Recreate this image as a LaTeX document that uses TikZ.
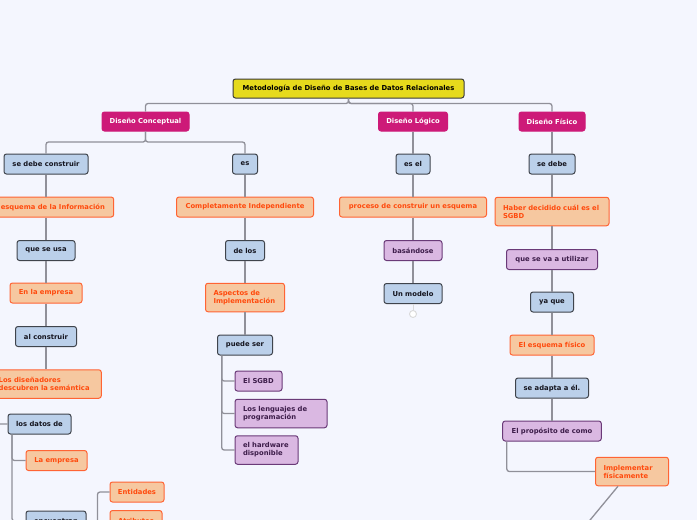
\documentclass[tikz,border=0pt]{standalone}
\usepackage{fontspec}
\setmainfont{DejaVu Sans}
\begin{document}
\begin{tikzpicture}[x=1pt,y=-1pt,
  conn/.style={draw=edgegrey,line width=1.3pt,rounded corners=2.5pt},
  box/.style={rounded corners=2.5pt,line width=1pt,inner sep=0pt,minimum height=20pt,
    font=\fontsize{6.8}{8}\selectfont\bfseries,align=left},
  rootbox/.style={box,fill=rootfill,draw=rootline,text=black},
  magbox/.style={box,fill=magfill,draw=magfill,text=white,minimum height=19pt},
  bluebox/.style={box,fill=bluefill,draw=blueline,text=bluetext},
  orbox/.style={box,fill=orfill,draw=orline,text=ortext},
  purbox/.style={box,fill=purfill,draw=purline,text=purtext},
  twoline/.style={minimum height=28.5pt,inner xsep=8pt,text width=#1}
]
\definecolor{bg}{HTML}{F4F6FE}
\definecolor{edgegrey}{HTML}{909099}
\definecolor{rootfill}{HTML}{E6DA1C}
\definecolor{rootline}{HTML}{3A3A3A}
\definecolor{magfill}{HTML}{CD1A78}
\definecolor{bluefill}{HTML}{BBD0EA}
\definecolor{blueline}{HTML}{3F444C}
\definecolor{bluetext}{HTML}{15151F}
\definecolor{orfill}{HTML}{F6C8A0}
\definecolor{orline}{HTML}{FF6434}
\definecolor{ortext}{HTML}{FF4A0D}
\definecolor{purfill}{HTML}{DAB8E2}
\definecolor{purline}{HTML}{6A3A78}
\definecolor{purtext}{HTML}{3D1D4A}
\useasboundingbox (0,0) rectangle (697,520);
\fill[bg] (0,0) rectangle (697,520);
\clip (0,0) rectangle (697,520);

% nodes
\node[rootbox,minimum width=231pt,minimum height=19pt] (root) at (348.5,88.5) {Metodología de Diseño de Bases de Datos Relacionales};
\node[magbox,minimum width=87pt] (dc) at (145.5,121.5) {Diseño Conceptual};
\node[magbox,minimum width=69pt] (dl) at (413,121.5) {Diseño Lógico};
\node[magbox,minimum width=66pt] (df) at (552,121.5) {Diseño Físico};

\node[bluebox,minimum width=84pt] (sdc) at (46,164) {se debe construir};
\node[bluebox,minimum width=25pt] (es) at (245,164) {es};
\node[bluebox,minimum width=34pt] (esel) at (413,164) {es el};
\node[bluebox,minimum width=46pt] (sdebe) at (552,164) {se debe};

\node[orbox,minimum width=121.7pt] (esq) at (52.85,207) {esquema de la Información};
\node[orbox,minimum width=137pt] (comp) at (245,207) {Completamente Independiente};
\node[orbox,minimum width=147pt] (proc) at (413,207) {proceso de construir un esquema};
\node[orbox,twoline=98pt] (haber) at (552,211.5) {Haber decidido cuál es el\\SGBD};

\node[bluebox,minimum width=58pt] (quea) at (46,250.5) {que se usa};
\node[bluebox,minimum width=39pt] (delos) at (245,250.5) {de los};
\node[purbox,minimum width=58pt] (bas) at (413,250.5) {basándose};
\node[purbox,minimum width=91pt] (qsva) at (552,259.5) {que se va a utilizar};

\node[orbox,minimum width=72pt] (enla) at (46,293) {En la empresa};
\node[orbox,twoline=63pt] (asp) at (245,297.5) {Aspectos de\\Implementación};
\node[bluebox,minimum width=58pt] (unm) at (413,293.5) {Un modelo};
\node[bluebox,minimum width=43pt] (yaque) at (552,302) {ya que};

\node[bluebox,minimum width=61pt] (alc) at (46,336.5) {al construir};
\node[bluebox,minimum width=55pt] (ps) at (245,345) {puede ser};
\node[orbox,minimum width=84pt] (efis) at (552,345) {El esquema físico};

\node[orbox,twoline=94.6pt] (dis) at (46,384) {Los diseñadores\\descubren la semántica};
\node[bluebox,minimum width=73pt] (adapta) at (552,388) {se adapta a él.};
\node[purbox,minimum width=47pt] (sgbd) at (258.5,381) {El SGBD};
\node[purbox,twoline=76pt] (leng) at (281,413.5) {Los lenguajes de\\programación};
\node[purbox,twoline=47pt] (hw) at (266.5,450) {el hardware\\disponible};

\node[bluebox,minimum width=63pt] (datos) at (39.5,424) {los datos de};
\node[orbox,minimum width=61pt] (laemp) at (56.5,460.5) {La empresa};
\node[bluebox,minimum width=60pt] (encu) at (56,521) {encuentran};
\node[orbox,minimum width=54pt] (ent) at (137,492) {Entidades};
\node[orbox,minimum width=52pt] (atr) at (136,520.5) {Atributos};

\node[purbox,minimum width=98.6pt] (prop) at (552,431) {El propósito de como};
\node[orbox,twoline=57pt] (impl) at (632,471.5) {Implementar\\físicamente};

\node[circle,draw=black!15,line width=0.9pt,fill=white,minimum size=7pt,inner sep=0pt] (knob) at (413,314) {};
\coordinate (implend) at (557,560);

% connectors
\draw[conn] (root.south) -- ++(0,5) -| (dc.north);
\draw[conn] (root.south) -- ++(0,5) -| (dl.north);
\draw[conn] (root.south) -- ++(0,5) -| (df.north);
\draw[conn] (dc.south) -- ++(0,10.5) -| (sdc.north);
\draw[conn] (dc.south) -- ++(0,10.5) -| (es.north);
\draw[conn] (dl) -- (esel);
\draw[conn] (df) -- (sdebe);

\draw[conn] (sdc.south) -- (sdc.south |- esq.north);
\draw[conn] (sdc.south |- esq.south) -- (quea.north);
\draw[conn] (quea) -- (enla);
\draw[conn] (enla) -- (alc);
\draw[conn] (alc) -- (dis);
\draw[conn] ([xshift=5pt]dis.south west) |- (datos.west);
\draw[conn] ([xshift=4.5pt]datos.south west) |- (laemp.west);
\draw[conn] ([xshift=4.5pt]datos.south west) |- (encu.west);
\draw[conn] ([yshift=-2pt]encu.east) -- ++(11,0) |- (ent.west);
\draw[conn] ([yshift=-2pt]encu.east) -- (encu.east -| atr.west);

\draw[conn] (es) -- (comp);
\draw[conn] (comp) -- (delos);
\draw[conn] (delos) -- (asp);
\draw[conn] (asp) -- (ps);
\draw[conn] ([xshift=4.7pt]ps.south west) |- (sgbd.west);
\draw[conn] ([xshift=4.7pt]ps.south west) |- (leng.west);
\draw[conn] ([xshift=4.7pt]ps.south west) |- (hw.west);

\draw[conn] (esel) -- (proc);
\draw[conn] (proc) -- (bas);
\draw[conn] (bas) -- (unm);
\draw[conn,draw=black!15,line width=1pt] (unm) -- (knob);

\draw[conn] (sdebe) -- (haber);
\draw[conn] (haber) -- (qsva);
\draw[conn] (qsva) -- (yaque);
\draw[conn] (yaque) -- (efis);
\draw[conn] (efis) -- (adapta);
\draw[conn] (adapta) -- (prop);
\draw[conn] ([xshift=4.6pt]prop.south west) |- (impl.west);
\draw[conn] ([xshift=-14pt]impl.south) -- (implend);
\end{tikzpicture}
\end{document}
